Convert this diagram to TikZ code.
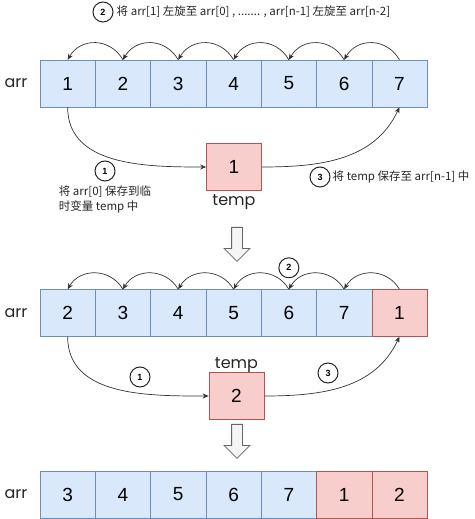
\documentclass[tikz,border=0pt]{standalone}
\usepackage{fontspec}
\setmainfont{Liberation Sans}
\newfontfamily\cjk{Noto Sans CJK SC}
\newfontfamily\handfont{Poppins}
\usetikzlibrary{arrows.meta, positioning, shapes.arrows}
\definecolor{cellblue}{HTML}{DAE8FC}
\definecolor{lineblue}{HTML}{6C8EBF}
\definecolor{cellred}{HTML}{F8CECC}
\definecolor{linered}{HTML}{B85450}
\definecolor{arrowgray}{HTML}{666666}
\definecolor{arrowfill}{HTML}{F5F5F5}
\tikzset{
    cellbox/.style={rectangle, draw=line#1, fill=cell#1, minimum width=55.3pt, minimum height=47pt, inner sep=0pt, font=\fontsize{19}{19}\selectfont},
    cellbox/.default=blue,
    stepnum/.style={circle, draw=black!85, line width=1pt, fill=white, minimum size=20pt, inner sep=0pt, font=\fontsize{9}{9}\selectfont\bfseries},
    note/.style={font=\cjk\fontsize{11.5}{15}\selectfont, text=black!85, inner sep=1pt, align=left},
    namelabel/.style={font=\handfont\fontsize{16}{16}\selectfont, text=black!85, inner sep=0pt},
    hop/.style={-{Stealth[length=6pt, width=5pt]}, black!80, line width=0.7pt},
    downarrow/.style={single arrow, draw=arrowgray, fill=arrowfill, rotate=-90, minimum height=34pt, inner sep=5pt, single arrow head extend=7.5pt, line width=0.8pt},
}

\begin{document}
\begin{tikzpicture}[x=1pt,y=1pt]
\useasboundingbox (0,0) rectangle (474,519);

% Step 2 caption on top
\node[stepnum] (top2) at (103,507) {2};
\node[note, right=2pt of top2] (toptext) {将 arr[1] 左旋至 arr[0] , ....... , arr[n-1] 左旋至 arr[n-2]};

% First row: original array
\node[namelabel] (arr1) at (16,435.5) {arr};
\foreach \v [count=\i] in {1,...,7}
  \node[cellbox] (a\i) at ({67.65+55.3*(\i-1)},435.5) {\v};
\foreach \i [remember=\i as \j (initially 1)] in {2,...,7}
  \draw[hop] (a\i.north) to[bend right=60, looseness=1.2] (a\j.north);

% Temp box of first round
\node[cellbox=red] (t1) at (234,352) {1};
\node[namelabel, below=4pt of t1] (tlabel1) {temp};
\draw[hop] (a1.south) to[out=-90, in=180] (t1.west);
\draw[hop] (t1.east) to[out=0, in=-115] (a7.south);
\node[stepnum] (s1) at (105,348) {1};
\node[note, below=3pt of s1] (s1text) {将 arr[0] 保存到临\\时变量 temp 中};
\node[stepnum] (s3) at (320,342) {3};
\node[note, right=1pt of s3] (s3text) {将 temp 保存至 arr[n-1] 中};

\node[downarrow, anchor=tail] (down1) at (237,292) {};

% Second row: after one rotation
\node[namelabel] (arr2) at (16,206) {arr};
\foreach \v/\c [count=\i] in {2/blue,3/blue,4/blue,5/blue,6/blue,7/blue,1/red}
  \node[cellbox=\c] (b\i) at ({67.65+55.3*(\i-1)},206) {\v};
\foreach \i [remember=\i as \j (initially 1)] in {2,...,7}
  \draw[hop] (b\i.north) to[bend right=60, looseness=1.15] (b\j.north);
\node[stepnum, above=11pt of b5.north] (r2s2) {2};

% Temp box of second round
\node[cellbox=red] (t2) at (236.5,123) {2};
\node[namelabel, above=-1pt of t2] (tlabel2) {temp};
\draw[hop] (b1.south) to[out=-90, in=180] (t2.west);
\draw[hop] (t2.east) to[out=0, in=-115] (b7.south);
\node[stepnum] (r2s1) at (140,142) {1};
\node[stepnum] (r2s3) at (328,146) {3};

\node[downarrow, anchor=tail] (down2) at (237,95) {};

% Third row: after two rotations
\node[namelabel] (arr3) at (16,24.5) {arr};
\foreach \v/\c [count=\i] in {3/blue,4/blue,5/blue,6/blue,7/blue,1/red,2/red}
  \node[cellbox=\c] (c\i) at ({67.65+55.3*(\i-1)},24.5) {\v};
\end{tikzpicture}
\end{document}
